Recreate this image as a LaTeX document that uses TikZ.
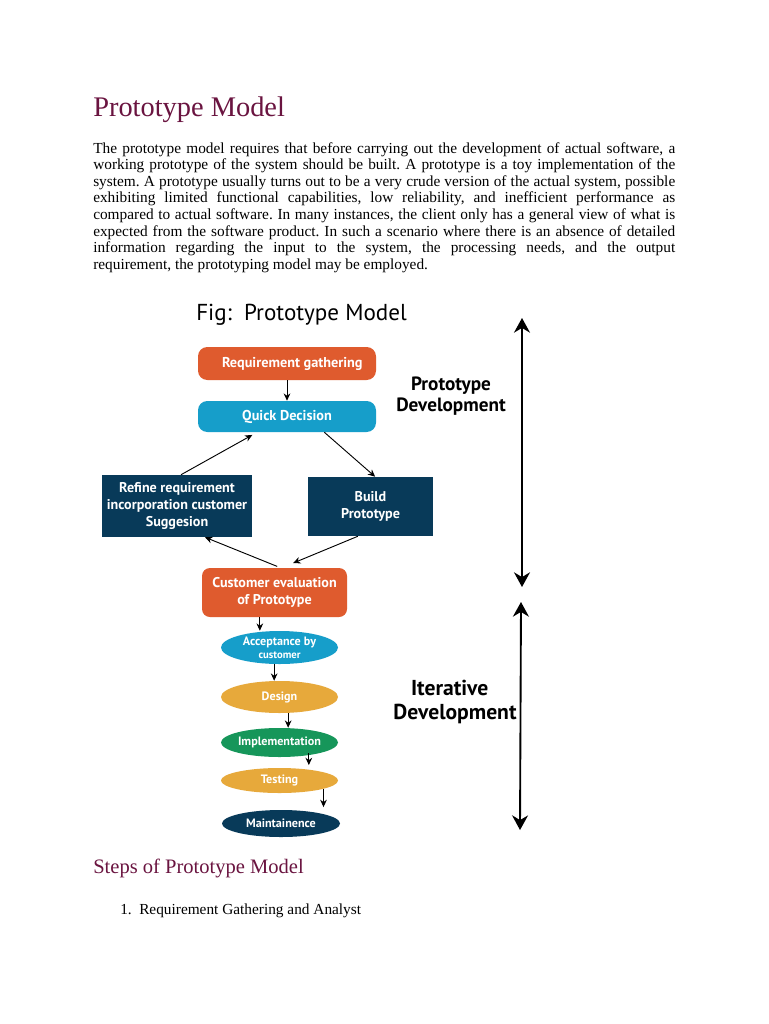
\documentclass[tikz,border=0pt]{standalone}
\usepackage{fontspec}
\setmainfont{Liberation Serif}
\setsansfont{PT Sans}
\usetikzlibrary{shapes.geometric,arrows.meta,positioning,calc}
\definecolor{titlered}{RGB}{106,20,64}
\definecolor{boxorange}{RGB}{223,91,46}
\definecolor{boxcyan}{RGB}{22,158,202}
\definecolor{boxnavy}{RGB}{8,58,89}
\definecolor{boxgold}{RGB}{231,169,59}
\definecolor{boxgreen}{RGB}{22,150,90}
\tikzset{
  stage/.style={rectangle,rounded corners=7pt,align=center,text=white,inner sep=0pt,
    font=\sffamily\bfseries\fontsize{10.7}{12.5}\selectfont},
  task/.style={rectangle,align=center,text=white,fill=boxnavy,inner sep=0pt,
    font=\sffamily\bfseries\fontsize{10.6}{12.5}\selectfont},
  phase/.style={ellipse,align=center,text=white,inner xsep=-2pt,inner ysep=-1pt,minimum width=87.75pt,
    font=\sffamily\bfseries\fontsize{9.1}{10}\selectfont},
  link/.style={arrows={-Stealth[length=5.5pt,width=5pt]},line width=0.7pt},
  span/.style={arrows={Stealth[length=11pt,width=12pt]-Stealth[length=11pt,width=12pt]},line width=1.4pt},
  sidelabel/.style={align=center,inner sep=0pt,font=\sffamily\bfseries\fontsize{14.4}{15.75}\selectfont}
}
\begin{document}
\begin{tikzpicture}[x=0.75pt,y=-0.75pt]
  \useasboundingbox[fill=white] (0,0) rectangle (768,1024);
  % page text
  \node[anchor=base west,inner sep=0pt,text=titlered,font=\fontsize{21.3}{24}\selectfont] (title) at (93,116) {Prototype Model};
  \node[anchor=base west,inner sep=0pt,text width=436.5pt,align=justify,font=\fontsize{11.5}{12.45}\selectfont] (intro) at (93,153)
    {\frenchspacing\hyphenpenalty=10000\tolerance=10000
     The prototype model requires that before carrying out the development of actual software, a\linebreak
     working prototype of the system should be built. A prototype is a toy implementation of the\linebreak
     system. A prototype usually turns out to be a very crude version of the actual system, possible\linebreak
     exhibiting limited functional capabilities, low reliability, and inefficient performance as\linebreak
     compared to actual software. In many instances, the client only has a general view of what is\linebreak
     expected from the software product. In such a scenario where there is an absence of detailed\linebreak
     information regarding the input to the system, the processing needs, and the output\linebreak
     requirement, the prototyping model may be employed.};
  \node[anchor=base west,inner sep=0pt,font=\sffamily\fontsize{17.3}{19}\selectfont] (figtitle) at (196,320) {Fig:\ \ Prototype Model};

  % prototype loop
  \node[stage,fill=boxorange,minimum width=133.5pt,minimum height=24.75pt] (rg) at (287,363.5) {\hspace{8pt}Requirement gathering};
  \node[stage,fill=boxcyan,minimum width=133.5pt,minimum height=23.25pt] (qd) at (287,416.5) {Quick Decision};
  \node[task,minimum width=112.5pt,minimum height=46.5pt] (refine) at (177,506) {Refine requirement\\incorporation customer\\Suggesion};
  \node[task,minimum width=93.75pt,minimum height=44.25pt] (build) at (370.5,506.5) {Build\\Prototype};
  \node[stage,fill=boxorange,rounded corners=6pt,minimum width=108.75pt,minimum height=36.75pt,
    font=\sffamily\bfseries\fontsize{10.6}{12.5}\selectfont] (ce) at (274.5,592.5) {Customer evaluation\\of Prototype};

  \draw[link] (rg.south) -- (qd.north);
  \draw[link] ([xshift=3pt]refine.north) -- ([xshift=-26pt,yshift=-2pt]qd.south);
  \draw[link] ([xshift=28pt]qd.south) -- ([xshift=3.5pt]build.north);
  \draw[link] ([xshift=-9.5pt]build.south) -- ([xshift=14pt,yshift=3.5pt]ce.north);
  \draw[link] ([xshift=2pt,yshift=1pt]ce.north) -- ([xshift=21pt]refine.south);

  % iterative steps
  \node[phase,fill=boxcyan,minimum height=24.75pt,inner ysep=-4pt] (acc) at (279.5,647.5) {Acceptance by\\{\fontsize{8}{9}\selectfont customer}};
  \node[phase,fill=boxgold,minimum height=24pt] (dsg) at (279.5,697) {Design};
  \node[phase,fill=boxgreen,minimum height=21.75pt] (impl) at (279.5,742.5) {Implementation};
  \node[phase,fill=boxgold,minimum height=18.75pt] (tst) at (279.5,780.5) {Testing};
  \node[phase,fill=boxnavy,minimum width=88.5pt,minimum height=20.25pt] (mnt) at (281,823.5) {Maintainence};

  \draw[link] ([xshift=-11pt]ce.south) -- ([xshift=-11pt]ce.south |- acc.north);
  \draw[link] ([xshift=-4pt]acc.south) -- ([xshift=-4pt]acc.south |- dsg.north);
  \draw[link] ([xshift=6.5pt]dsg.south) -- ([xshift=6.5pt]dsg.south |- impl.north);
  \draw[link] ([xshift=22pt,yshift=3pt]impl.south) -- ([xshift=22pt,yshift=2pt]impl.south |- tst.north);
  \draw[link] ([xshift=33pt,yshift=3pt]tst.south) -- ([xshift=33pt,yshift=2pt]tst.south |- mnt.north);

  % phase spans
  \coordinate (ptop) at (522,318);
  \coordinate (pbot) at (522,587);
  \coordinate (itop) at (521,602);
  \coordinate (ibot) at (520,830);
  \draw[span] (ptop) -- (pbot);
  \draw[span] (itop) -- (ibot);
  \node[sidelabel] (plabel) at (451,396) {Prototype\\Development};
  \node[sidelabel,font=\sffamily\bfseries\fontsize{16.2}{18}\selectfont] (ilabel) at (455,702) {\hspace*{-8pt}Iterative\\Development};

  % next section
  \node[anchor=base west,inner sep=0pt,text=titlered,font=\fontsize{15.4}{18}\selectfont] (steps) at (93,873) {Steps of Prototype Model};
  \node[anchor=base west,inner sep=0pt,font=\fontsize{11.5}{12.45}\selectfont] (num) at (120,914) {1.};
  \node[anchor=base west,inner sep=0pt,font=\fontsize{11.5}{12.45}\selectfont] (item) at (139,914) {Requirement Gathering and Analyst};
\end{tikzpicture}
\end{document}
